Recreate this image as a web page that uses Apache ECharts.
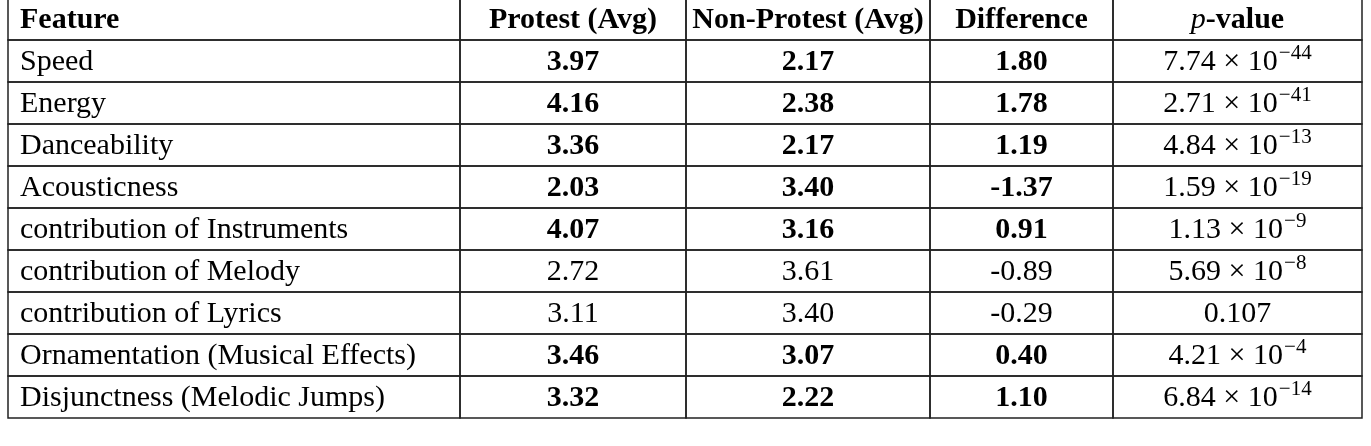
<!DOCTYPE html><html><head><meta charset="utf-8"><script src="https://cdn.jsdelivr.net/npm/echarts@6/dist/echarts.min.js"></script>
<style>html,body{margin:0;background:#fff}#c{width:1371px;height:446px}</style></head><body><div id="c"></div><script>
const headers = ['Feature','Protest (Avg)','Non-Protest (Avg)','Difference','p-value'];
const features = ['Speed','Energy','Danceability','Acousticness','contribution of Instruments','contribution of Melody','contribution of Lyrics','Ornamentation (Musical Effects)','Disjunctness (Melodic Jumps)'];
const protest = ['3.97','4.16','3.36','2.03','4.07','2.72','3.11','3.46','3.32'];
const nonProtest = ['2.17','2.38','2.17','3.40','3.16','3.61','3.40','3.07','2.22'];
const difference = ['1.80','1.78','1.19','-1.37','0.91','-0.89','-0.29','0.40','1.10'];
const pMantissa = ['7.74','2.71','4.84','1.59','1.13','5.69',null,'4.21','6.84'];
const pExponent = ['-44','-41','-13','-19','-9','-8',null,'-4','-14'];
const pPlain = [null,null,null,null,null,null,'0.107',null,null];
const significant = [true,true,true,true,true,false,false,true,true];

const colEdges = [8,460,686,930,1113,1362];
const top0 = -2, headH = 42, rowH = 42;
const fam = 'Liberation Serif';
const fs = 30;

const data = [];
for (let r = -1; r < features.length; r++) for (let c = 0; c < 5; c++) data.push([c, r]);

function cellRich(c, r) {
  if (r < 0) {
    if (c === 4) return '{i|p}{b|-value}';
    return '{b|'+headers[c]+'}';
  }
  const st = (c > 0 && c < 4 && significant[r]) ? 'b' : 'n';
  if (c === 0) return '{n|'+features[r]+'}';
  if (c === 1) return '{'+st+'|'+protest[r]+'}';
  if (c === 2) return '{'+st+'|'+nonProtest[r]+'}';
  if (c === 3) return '{'+st+'|'+difference[r]+'}';
  if (pPlain[r]) return '{n|'+pPlain[r]+'}';
  return '{n|'+pMantissa[r]+' × 10}{s|'+pExponent[r].replace('-','−')+'}';
}
const rich = {
  b:{font:'bold '+fs+'px "'+fam+'"',fill:'#000'},
  n:{font:fs+'px "'+fam+'"',fill:'#000'},
  i:{font:'italic '+fs+'px "'+fam+'"',fill:'#000'},
  s:{font:'21px "'+fam+'"',fill:'#000',padding:[0,0,18,1]}
};

const chart = echarts.init(document.getElementById('c'));
chart.setOption({
  animation:false,
  grid:{left:0,right:0,top:0,bottom:0},
  xAxis:{type:'value',min:0,max:1371,show:false},
  yAxis:{type:'value',min:0,max:446,inverse:true,show:false},
  series:[{
    type:'custom',
    data:data,
    renderItem:function(params, api){
      const c = api.value(0), r = api.value(1);
      const y0 = r < 0 ? top0 : top0 + headH + r*rowH;
      const h = r < 0 ? headH : rowH;
      const p0 = api.coord([colEdges[c], y0]);
      const p1 = api.coord([colEdges[c+1], y0 + h]);
      const left = c === 0;
      return {type:'group',children:[
        {type:'rect',shape:{x:p0[0],y:p0[1],width:p1[0]-p0[0],height:p1[1]-p0[1]},
         style:{fill:'none',stroke:'#222',lineWidth:1.5}},
        {type:'text',x:left ? p0[0]+12 : (p0[0]+p1[0])/2, y:(p0[1]+p1[1])/2+1,
         style:{text:cellRich(c, r),rich:rich,align:left?'left':'center',verticalAlign:'middle',
         font:fs+'px "'+fam+'"'}}
      ]};
    }
  }]
});
</script></body></html>
